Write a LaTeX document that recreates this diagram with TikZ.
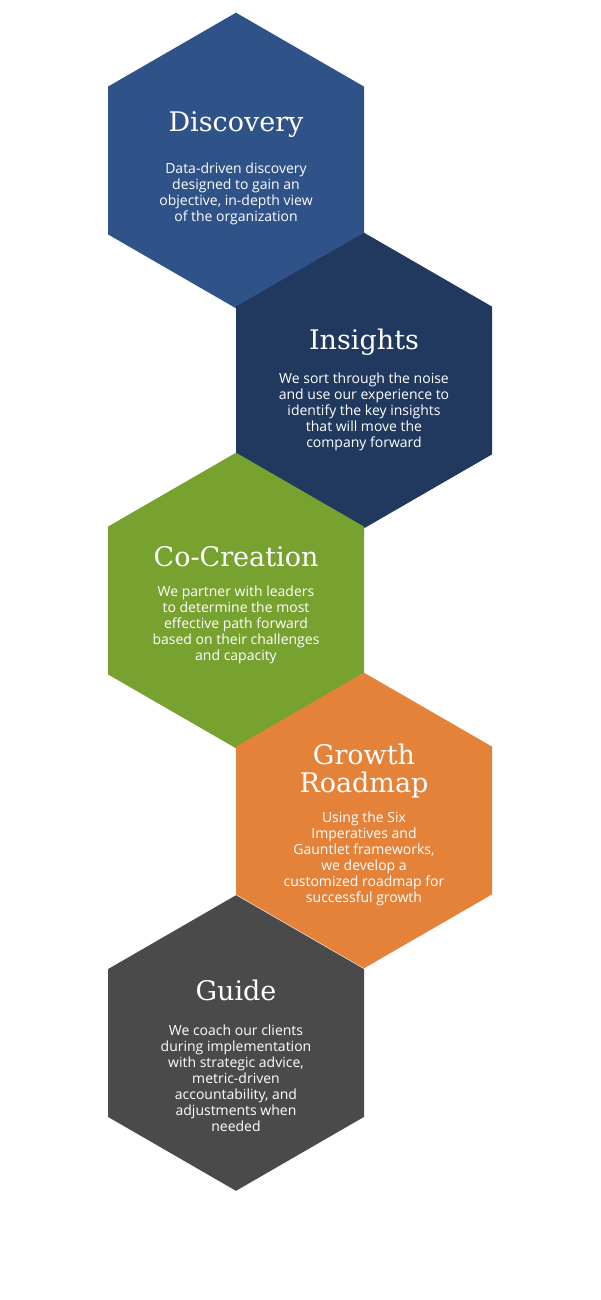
\documentclass[tikz,border=0pt]{standalone}
\usepackage{fontspec}
\setmainfont{Open Sans}
\newfontfamily\titlefont{DejaVu Serif}
\usetikzlibrary{shapes.geometric}
\definecolor{cA}{HTML}{2F5289}
\definecolor{cB}{HTML}{22395F}
\definecolor{cC}{HTML}{78A22F}
\definecolor{cD}{HTML}{E5823A}
\definecolor{cE}{HTML}{4A4A4A}
\tikzset{
 hex/.style={regular polygon,regular polygon sides=6,shape border rotate=30,minimum size=295.6pt,inner sep=0pt,draw=none},
 ttl/.style={text=white,font=\titlefont\fontsize{27}{28}\selectfont,align=center},
 body/.style={text=white,font=\fontsize{14}{16}\selectfont,align=center}
}
\begin{document}
\begin{tikzpicture}[x=1pt,y=-1pt]
\useasboundingbox[fill=white] (0,0) rectangle (600,1300);
\node[hex,fill=cA] (h1) at (236,160.5) {};
\node[hex,fill=cB] (h2) at (364,380.5) {};
\node[hex,fill=cC] (h3) at (236,600.5) {};
\node[hex,fill=cD] (h4) at (364,820.5) {};
\node[hex,fill=cE] (h5) at (236,1043) {};
\node[ttl] (t1) at (236,125) {Discovery};
\node[body] (b1) at (236,194) {Data-driven discovery\\designed to gain an\\objective, in-depth view\\of the organization};
\node[ttl] (t2) at (364,342) {Insights};
\node[body] (b2) at (364,412) {We sort through the noise\\and use our experience to\\identify the key insights\\that will move the\\company forward};
\node[ttl] (t3) at (236,557) {Co-Creation};
\node[body] (b3) at (236,625) {We partner with leaders\\to determine the most\\effective path forward\\based on their challenges\\and capacity};
\node[ttl] (t4) at (364,771) {Growth\\Roadmap};
\node[body] (b4) at (364,859) {Using the Six\\Imperatives and\\Gauntlet frameworks,\\we develop a\\customized roadmap for\\successful growth};
\node[ttl] (t5) at (236,990) {Guide};
\node[body] (b5) at (236,1078) {We coach our clients\\during implementation\\with strategic advice,\\metric-driven\\accountability, and\\adjustments when\\needed};
\end{tikzpicture}
\end{document}
